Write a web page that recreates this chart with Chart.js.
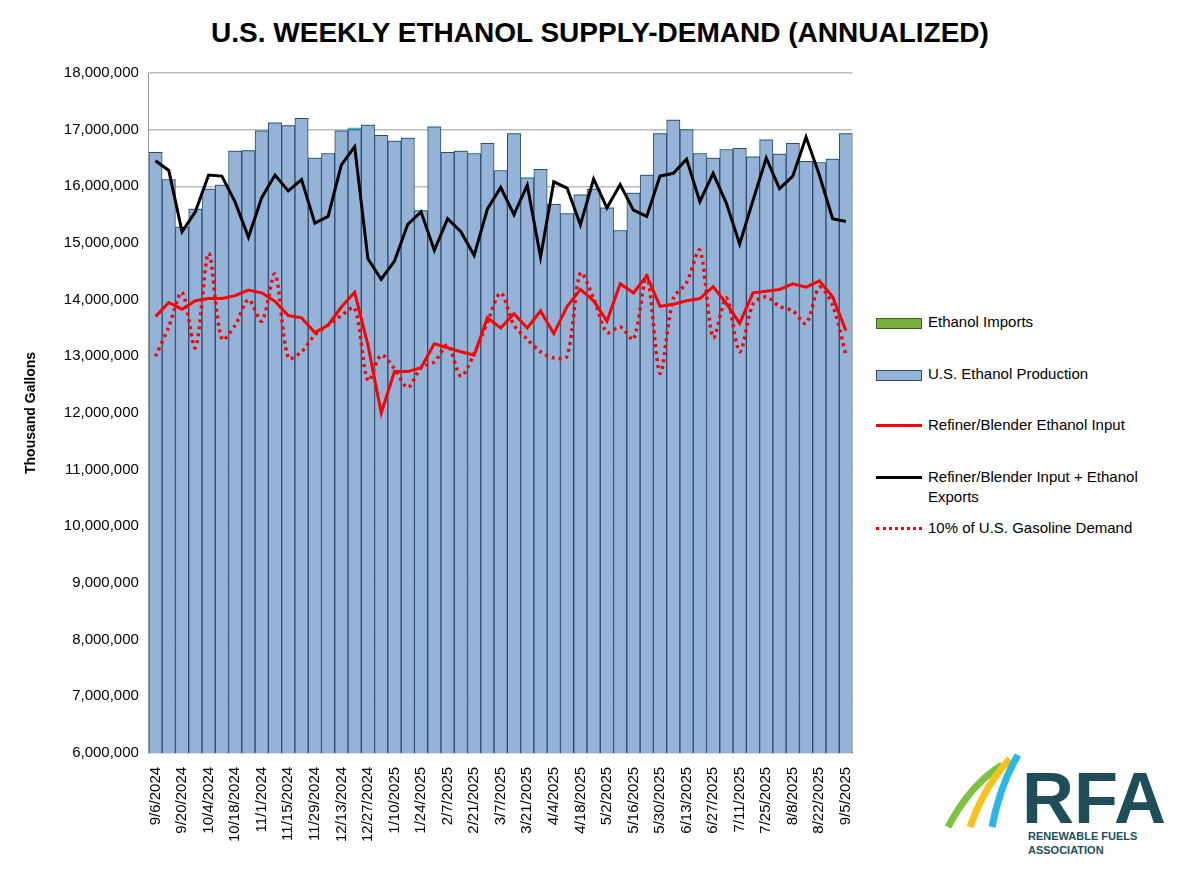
<!DOCTYPE html>
<html><head><meta charset="utf-8">
<script src="https://cdn.jsdelivr.net/npm/chart.js@4"></script>
<style>
body{margin:0;background:#fff;font-family:"Liberation Sans",Arial,sans-serif;}
#title{position:absolute;left:0;top:17px;width:1200px;text-align:center;font-weight:bold;font-size:28px;color:#000;}
#wrap{position:absolute;left:0;top:0;width:870px;height:871px;}
#legend{position:absolute;left:876px;top:312px;font-size:15px;color:#000;}
.li{position:absolute;left:0;width:320px;line-height:20px;}
.sw{position:absolute;left:0;}
.tx{position:absolute;left:52px;white-space:nowrap;}
</style></head><body>
<div id="title">U.S. WEEKLY ETHANOL SUPPLY-DEMAND (ANNUALIZED)</div>
<div id="wrap"><canvas id="c" width="870" height="871"></canvas></div>
<div id="legend">
 <div class="li" style="top:0"><span class="sw" style="top:6px;width:44px;height:9px;background:#77b140;border:1px solid #3d6020"></span><span class="tx">Ethanol Imports</span></div>
 <div class="li" style="top:52px"><span class="sw" style="top:6px;width:44px;height:9px;background:#95b3d7;border:1px solid #2e4a6b"></span><span class="tx">U.S. Ethanol Production</span></div>
 <div class="li" style="top:103px"><span class="sw" style="top:9px;width:46px;height:3px;background:#ff0000"></span><span class="tx">Refiner/Blender Ethanol Input</span></div>
 <div class="li" style="top:155px"><span class="sw" style="top:9px;width:46px;height:3px;background:#000"></span><span class="tx">Refiner/Blender Input + Ethanol<br>Exports</span></div>
 <div class="li" style="top:206px"><span class="sw" style="top:9px;width:46px;height:0;border-top:3px dotted #ff0000"></span><span class="tx">10% of U.S. Gasoline Demand</span></div>
</div>
<svg style="position:absolute;left:940px;top:745px" width="250" height="115" viewBox="0 0 250 115">
 <path d="M8 82 Q30 40 62 20" stroke="#7dc242" stroke-width="7" fill="none"/>
 <path d="M30 82 Q45 40 70 14" stroke="#f7c21b" stroke-width="7" fill="none"/>
 <path d="M52 82 Q60 40 78 10" stroke="#29b6e8" stroke-width="7" fill="none"/>
 <text x="82" y="78" font-family="Liberation Sans" font-weight="bold" font-size="72" fill="#1d4e5a">RFA</text>
 <text x="88" y="95" font-family="Liberation Sans" font-weight="bold" font-size="11" fill="#1d4e5a">RENEWABLE FUELS</text>
 <text x="88" y="109" font-family="Liberation Sans" font-weight="bold" font-size="11" fill="#1d4e5a">ASSOCIATION</text>
</svg>
<script>
const weeks=["9/6/2024","9/13/2024","9/20/2024","9/27/2024","10/4/2024","10/11/2024","10/18/2024","10/25/2024","11/1/2024","11/8/2024","11/15/2024","11/22/2024","11/29/2024","12/6/2024","12/13/2024","12/20/2024","12/27/2024","1/3/2025","1/10/2025","1/17/2025","1/24/2025","1/31/2025","2/7/2025","2/14/2025","2/21/2025","2/28/2025","3/7/2025","3/14/2025","3/21/2025","3/28/2025","4/4/2025","4/11/2025","4/18/2025","4/25/2025","5/2/2025","5/9/2025","5/16/2025","5/23/2025","5/30/2025","6/6/2025","6/13/2025","6/20/2025","6/27/2025","7/4/2025","7/11/2025","7/18/2025","7/25/2025","8/1/2025","8/8/2025","8/15/2025","8/22/2025","8/29/2025","9/5/2025"];
const M=1e6;
const production=[16.6,16.12,15.28,15.6,15.95,16.02,16.62,16.63,16.98,17.12,17.07,17.2,16.5,16.58,16.98,17.0,17.08,16.9,16.8,16.85,15.57,17.05,16.6,16.62,16.58,16.76,16.28,16.93,16.15,16.3,15.68,15.52,15.85,15.95,15.62,15.22,15.88,16.2,16.93,17.17,17.0,16.58,16.5,16.65,16.67,16.52,16.82,16.57,16.76,16.44,16.42,16.48,16.93].map(v=>v*M);
const imports=[0,0,0,0,0,0,0,0,0,0,0,0,0,0,0,30000,0,0,0,0,0,0,0,0,0,0,0,0,0,0,0,0,0,0,0,0,0,0,0,0,0,0,0,0,0,0,0,0,0,0,0,0,0];
const inputPlusExports=[16.45,16.28,15.2,15.55,16.2,16.18,15.72,15.1,15.8,16.2,15.92,16.12,15.35,15.47,16.38,16.7,14.72,14.36,14.68,15.33,15.55,14.87,15.43,15.2,14.78,15.6,15.98,15.5,16.02,14.75,16.08,15.97,15.32,16.13,15.62,16.03,15.58,15.47,16.18,16.23,16.48,15.73,16.23,15.7,14.98,15.75,16.5,15.96,16.18,16.87,16.2,15.43,15.38].map(v=>v*M);
const blenderInput=[13.7,13.95,13.83,13.98,14.02,14.02,14.07,14.17,14.12,13.97,13.72,13.68,13.42,13.55,13.87,14.13,13.2,12.0,12.73,12.73,12.8,13.22,13.15,13.08,13.02,13.68,13.5,13.75,13.5,13.8,13.4,13.88,14.18,13.98,13.62,14.28,14.12,14.42,13.88,13.92,13.98,14.02,14.23,13.93,13.58,14.12,14.15,14.18,14.28,14.22,14.33,14.05,13.45].map(v=>v*M);
const gasoline10=[13.0,13.52,14.13,13.15,14.82,13.3,13.55,14.0,13.62,14.45,12.97,13.08,13.38,13.55,13.72,13.85,12.57,13.02,12.78,12.45,12.8,12.9,13.2,12.65,13.05,13.6,14.12,13.55,13.3,13.08,12.97,13.0,14.47,14.02,13.42,13.52,13.3,14.42,12.7,14.02,14.3,14.87,13.33,14.03,13.08,13.92,14.05,13.88,13.8,13.58,14.22,13.9,13.02].map(v=>v*M);
const fnt="'Liberation Sans', Arial, sans-serif";
new Chart(document.getElementById('c'),{
 data:{labels:weeks,datasets:[
  {type:'line',label:'10% of U.S. Gasoline Demand',data:gasoline10,borderColor:'#ff0000',borderWidth:3.5,borderDash:[3,4],pointRadius:0,tension:0.3,stack:'g',order:1},
  {type:'line',label:'Refiner/Blender Ethanol Input',data:blenderInput,borderColor:'#ff0000',borderWidth:3,pointRadius:0,tension:0,stack:'r',order:0},
  {type:'line',label:'Refiner/Blender Input + Ethanol Exports',data:inputPlusExports,borderColor:'#000',borderWidth:3,pointRadius:0,tension:0,stack:'k',order:0},
  {type:'bar',label:'U.S. Ethanol Production',data:production,backgroundColor:'#95b3d7',borderColor:'#2e4a6b',borderWidth:1,stack:'p',order:3,barPercentage:1,categoryPercentage:1,borderSkipped:false},
  {type:'bar',label:'Ethanol Imports',data:imports,backgroundColor:'#3fb8c8',borderColor:'#2e4a6b',borderWidth:0,stack:'p',order:3,barPercentage:1,categoryPercentage:1}
 ]},
 options:{responsive:false,animation:false,devicePixelRatio:1,
  layout:{padding:{left:19,right:11,top:73,bottom:23}},
  plugins:{legend:{display:false},tooltip:{enabled:false},title:{display:false}},
  scales:{
   x:{stacked:true,grid:{display:false},border:{color:'#999'},
    ticks:{autoSkip:false,maxRotation:90,minRotation:90,padding:6,color:'#000',font:{family:fnt,size:15},callback:function(v,i){return i%2===0?weeks[i]:'';}}},
   y:{stacked:true,min:6e6,max:18e6,border:{color:'#999'},grid:{color:'#bbb',lineWidth:1.5,drawTicks:false},
    title:{display:true,text:'Thousand Gallons',color:'#000',padding:{bottom:14},font:{family:fnt,size:14,weight:'bold'}},
    ticks:{stepSize:1e6,padding:10,color:'#000',font:{family:fnt,size:15},callback:v=>v.toLocaleString('en-US')}}
  }}
});
</script>
</body></html>
